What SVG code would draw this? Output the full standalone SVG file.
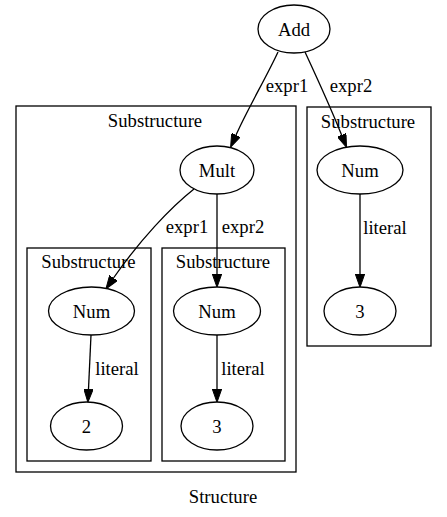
<svg xmlns="http://www.w3.org/2000/svg" width="447" height="517" viewBox="0 0 447 517">
<style>
text{font-family:"Liberation Serif","Times New Roman",serif;font-size:18.67px;fill:#000;text-anchor:middle}
.cl{fill:none;stroke:#000;stroke-width:1.3}
.nd{fill:#fff;stroke:#000;stroke-width:1.3}
.ed{fill:none;stroke:#000;stroke-width:1.3;marker-end:url(#ah)}
</style>
<defs>
<marker id="ah" viewBox="0 0 13.3 9.4" refX="0" refY="4.7" markerWidth="13.3" markerHeight="9.4" markerUnits="userSpaceOnUse" orient="auto">
<path d="M0,0 L13.3,4.7 L0,9.4 z" fill="#000" stroke="#000" stroke-width="1"/>
</marker>
</defs>
<rect width="447" height="517" fill="#fff"/>
<g id="clusters">
<g id="cluster_main"><rect class="cl" x="16" y="106" width="280" height="366"/><text x="155" y="127">Substructure</text></g>
<g id="cluster_right"><rect class="cl" x="307" y="107" width="124" height="239"/><text x="368" y="128">Substructure</text></g>
<g id="cluster_in1"><rect class="cl" x="27" y="248" width="124" height="213"/><text x="88.5" y="268">Substructure</text></g>
<g id="cluster_in2"><rect class="cl" x="162" y="248" width="123" height="213"/><text x="223" y="268">Substructure</text></g>
<text x="223" y="503">Structure</text>
</g>
<g id="edges">
<path class="ed" d="M278,52 C266,78 248,108 236,135"/>
<text x="287" y="92">expr1</text>
<path class="ed" d="M305,52 C318,80 330,106 341.6,135"/>
<text x="351" y="92">expr2</text>
<path class="ed" d="M194,189 C170,208 140,240 113.5,278"/>
<text x="187" y="233">expr1</text>
<path class="ed" d="M217,194 L217,274"/>
<text x="243" y="233">expr2</text>
<path class="ed" d="M91,335 L88.5,389"/>
<text x="117" y="375">literal</text>
<path class="ed" d="M217,335 L217,389"/>
<text x="243" y="375">literal</text>
<path class="ed" d="M360,194 L360,274"/>
<text x="385" y="234">literal</text>
</g>
<g id="node_add"><ellipse class="nd" cx="294" cy="29" rx="36" ry="24"/><text x="294" y="35.5">Add</text></g>
<g id="node_mult"><ellipse class="nd" cx="217" cy="170" rx="37" ry="24"/><text x="217" y="176.5">Mult</text></g>
<g id="node_num_r"><ellipse class="nd" cx="360" cy="170" rx="43" ry="24"/><text x="360" y="176.5">Num</text></g>
<g id="node_3_r"><ellipse class="nd" cx="360" cy="311" rx="36" ry="24"/><text x="360" y="317.5">3</text></g>
<g id="node_num_l"><ellipse class="nd" cx="91.5" cy="311" rx="43" ry="24"/><text x="91.5" y="317.5">Num</text></g>
<g id="node_2"><ellipse class="nd" cx="86.5" cy="426" rx="36" ry="24"/><text x="86.5" y="432.5">2</text></g>
<g id="node_num_m"><ellipse class="nd" cx="217" cy="311" rx="43.5" ry="24"/><text x="217" y="317.5">Num</text></g>
<g id="node_3_m"><ellipse class="nd" cx="217" cy="426" rx="36" ry="24"/><text x="217" y="432.5">3</text></g>
</svg>
